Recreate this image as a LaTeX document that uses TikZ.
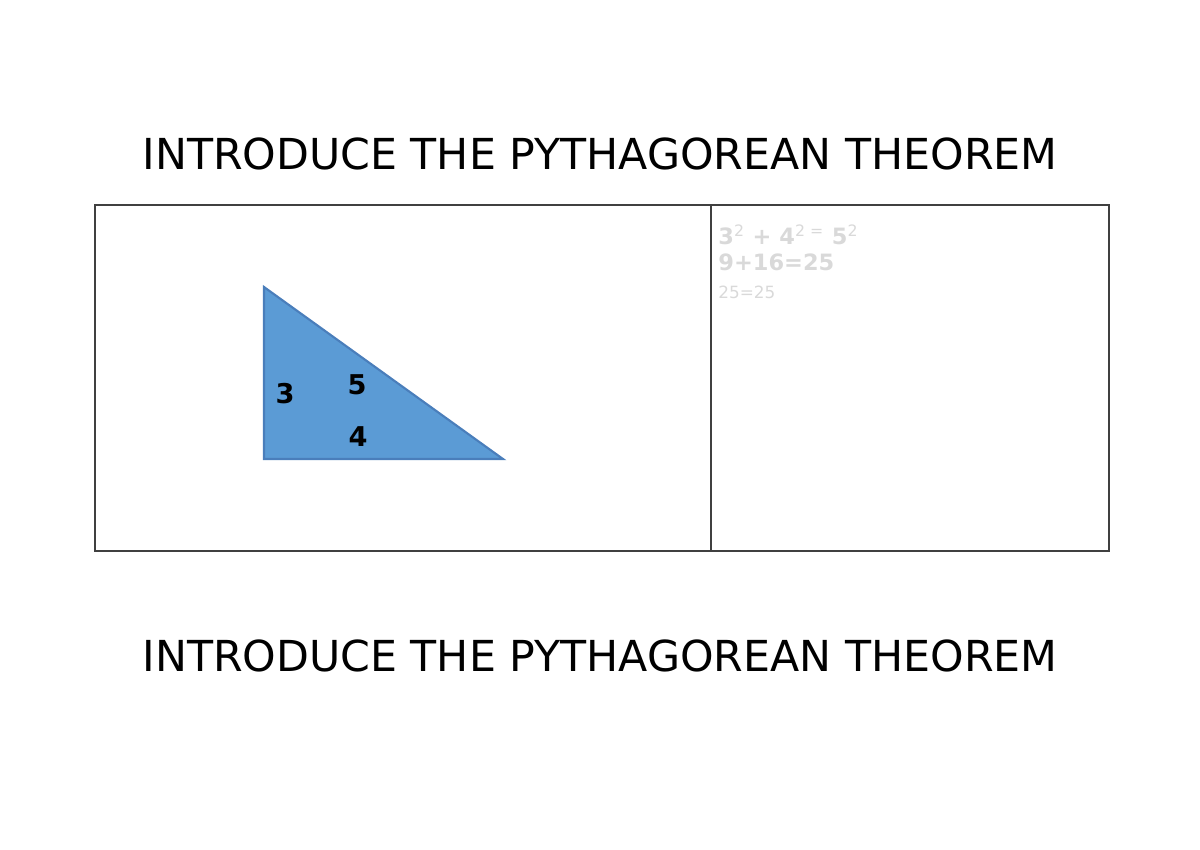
\documentclass[tikz,border=0pt]{standalone}
\usepackage{fontspec}
\setmainfont{DejaVu Sans}
\definecolor{trifill}{HTML}{5B9BD5}
\definecolor{triedge}{HTML}{4A7EBB}
\definecolor{faint}{HTML}{D9D9D9}
\definecolor{frame}{HTML}{404040}
\newcommand{\sq}[1]{\textsuperscript{\mdseries #1}}
\tikzstyle{heading} = [inner sep=0pt,anchor=base,font=\fontsize{24.3}{28}\selectfont]
\tikzstyle{side} = [inner sep=0pt,font=\fontsize{15.5}{18}\selectfont\bfseries]
\tikzstyle{calc} = [inner sep=0pt,anchor=base west,text=faint,font=\fontsize{12.8}{15}\selectfont\bfseries]
\tikzstyle{calcsmall} = [calc,font=\fontsize{9.6}{12}\selectfont]
\begin{document}
\begin{tikzpicture}[x=0.02cm,y=-0.02cm]
\useasboundingbox (0,0) rectangle (1200,849);
	\node[heading] at (600,169) (topline) {INTRODUCE THE PYTHAGOREAN THEOREM};
	\node[heading] at (600,671) (bottomline) {INTRODUCE THE PYTHAGOREAN THEOREM};
	
	\draw[frame,line width=0.6pt] (95,205) rectangle (1109,551);
	\draw[frame,line width=0.6pt] (711,205) -- (711,551);
	
	\coordinate (apex) at (264,287);
	\coordinate (corner) at (264,459);
	\coordinate (tip) at (503,459);
	\draw[triedge,fill=trifill,line width=1.2pt] (apex) -- (corner) -- (tip) -- cycle;
	\node[side] at (285,394) (legA) {3};
	\node[side] at (357,385) (hyp) {5};
	\node[side] at (358,437) (legB) {4};
	
	\node[calc] at (718,244) (eqone) {3\sq{2} + 4\sq{2 =} 5\sq{2}};
	\node[calc] at (718,270) (eqtwo) {9+16=25};
	\node[calcsmall] at (718,298) (eqthree) {25=25};
\end{tikzpicture}
\end{document}
